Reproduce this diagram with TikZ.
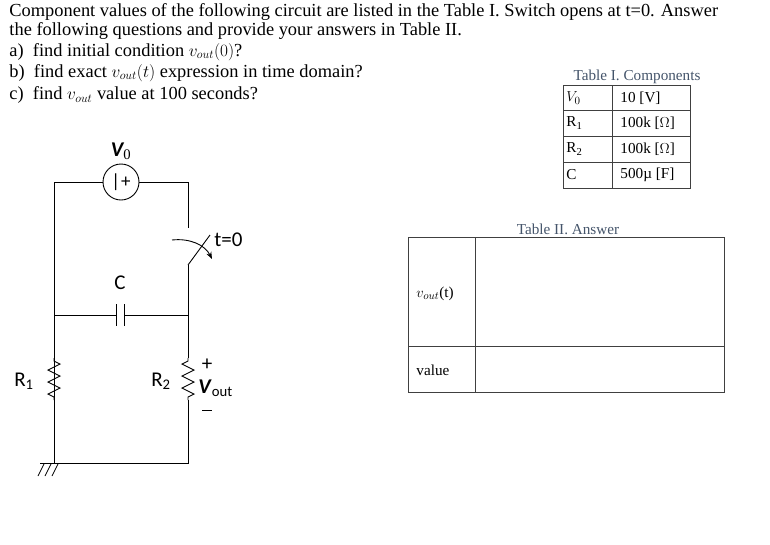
\documentclass[tikz,border=0pt]{standalone}
\usepackage{fontspec}
\setmainfont{Liberation Serif}
\newfontfamily\cir{Carlito}
\usetikzlibrary{arrows.meta}
\definecolor{cap}{HTML}{44546A}
\begin{document}
\begin{tikzpicture}[x=1pt,y=-1pt,line width=0.9pt,
  txt/.style={anchor=west,inner sep=0pt,font=\fontsize{18.4}{20}\selectfont},
  cl/.style={inner sep=0pt,font=\cir\fontsize{21}{23}\selectfont},
  tc/.style={inner sep=0pt,font=\fontsize{15.2}{17}\selectfont},
  tl/.style={line width=0.6pt,draw=black!75}]
\useasboundingbox (0,0) rectangle (770,544);
\node[txt] (l1) at (9,12) {Component values of the following circuit are listed in the Table I. Switch opens at t=0. Answer};
\node[txt] (l2) at (9,31) {the following questions and provide your answers in Table II.};
\node[txt] (l3) at (9,52) {a)\ \ find initial condition $v_{out}(0)$?};
\node[txt] (l4) at (9,73) {b)\ \ find exact $v_{out}(t)$ expression in time domain?};
\node[txt] (l5) at (9,95) {c)\ \ find $v_{out}$ value at 100 seconds?};
% circuit
\coordinate (tl) at (54,182); \coordinate (tr) at (188,182);
\coordinate (ml) at (54,315); \coordinate (mr) at (188,315);
\coordinate (bl) at (54,463); \coordinate (br) at (188,463);
\node[circle,draw,minimum size=36pt,inner sep=0pt,font=\cir\fontsize{19}{19}\selectfont] (src) at (121,182) {|\kern1pt+};
\node[cl,font=\cir\bfseries\itshape\fontsize{21}{23}\selectfont] (v0) at (121,151) {V\textsubscript{\normalfont 0}};
\draw (tl) -- (src) -- (tr);
\draw (tl) -- (bl) -- (br) -- (188,400);
\coordinate (s1) at (188,228); \coordinate (s2) at (188,265);
\draw (tr) -- (s1); \draw (s2) -- (mr);
\draw (s2) -- (210,235);
\draw[-{Stealth[length=7pt]}] (172,240) .. controls (190,238) and (205,245) .. (212,259);
\node[cl,anchor=west] (t0) at (214,240) {t=0};
\draw (ml) -- (116,315); \draw (124,315) -- (mr);
\draw (116,304) -- (116,326); \draw (124,304) -- (124,326);
\node[cl] (cC) at (120,283) {C};
\draw (54,358) -- ++(0,3) -- ++(6,3) -- ++(-12,6) -- ++(12,6) -- ++(-12,6) -- ++(12,6) -- ++(-12,6) -- ++(6,3) -- (54,400);
\draw (188,358) -- ++(0,3) -- ++(-6,3) -- ++(12,6) -- ++(-12,6) -- ++(12,6) -- ++(-12,6) -- ++(12,6) -- ++(-6,3) -- (188,400);
\draw (188,315) -- (188,358);
\node[cl] (r1) at (24,381) {R\textsubscript{1}};
\node[cl] (r2) at (161,381) {R\textsubscript{2}};
\node[cl] (pl) at (207,365) {+};
\node[cl,anchor=west,font=\cir\bfseries\fontsize{21}{23}\selectfont] (vo) at (198,388) {\textit{V}\textsubscript{\mdseries out}};
\draw (202,410) -- (212,410);
\draw (40,463) -- (68,463);
\foreach \i in {0,7,14} \draw[line width=0.7pt] (44+\i,464) -- (38+\i,476);
% Table I
\node[tc,text=cap] (cap1) at (637,77) {Table I. Components};
\draw[tl] (563,85) rectangle (690,188);
\draw[tl] (612,85) -- (612,188);
\foreach \y in {110,136,162} \draw[tl] (563,\y) -- (690,\y);
\node[tc,anchor=west] (a1) at (566,98) {$V_0$};
\node[tc,anchor=west] (a2) at (566,123) {R\textsubscript{1}};
\node[tc,anchor=west] (a3) at (566,149) {R\textsubscript{2}};
\node[tc,anchor=west] (a4) at (566,175) {C};
\node[tc,anchor=west] (b1) at (620,98) {10 [V]};
\node[tc,anchor=west] (b2) at (620,123) {100k [$\Omega$]};
\node[tc,anchor=west] (b3) at (620,149) {100k [$\Omega$]};
\node[tc,anchor=west] (b4) at (620,175) {500µ [F]};
% Table II
\node[tc,text=cap] (cap2) at (568,229) {Table II. Answer};
\draw[tl] (408,237) rectangle (724,392);
\draw[tl] (475,237) -- (475,392);
\draw[tl] (408,346) -- (724,346);
\node[tc,anchor=west] (c1) at (416,294) {$v_{out}$(t)};
\node[tc,anchor=west] (c2) at (416,370) {value};
\end{tikzpicture}
\end{document}
